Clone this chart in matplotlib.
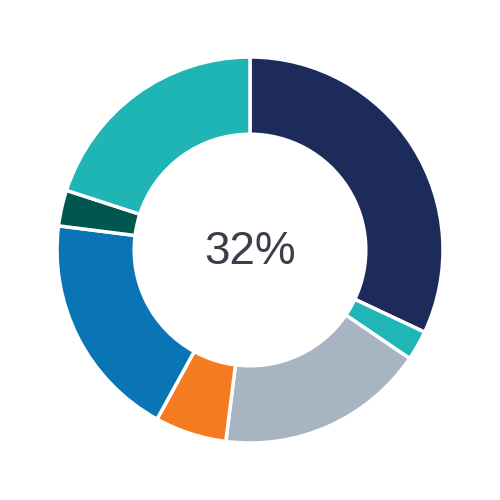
import matplotlib
matplotlib.use("Agg")
import matplotlib.pyplot as plt

categories = ["A", "B", "C", "D", "E", "F", "G"]
values = [32, 2.5, 17.5, 6, 19, 3, 20]
colors = ["#1c2b5a", "#20b6b8", "#a8b4c2", "#f47b20", "#0a75b5", "#00574f", "#1fb5b5"]
center_label = "32%"

fig = plt.figure(figsize=(5, 5), dpi=100)
ax = fig.add_axes([0, 0, 1, 1])
ax.pie(values, colors=colors, startangle=90, counterclock=False, radius=1.0,
       wedgeprops=dict(width=0.4, edgecolor="white", linewidth=2.5))
ax.text(0, -0.01, center_label, ha="center", va="center", fontsize=33,
        color="#3a3f4a", family="Liberation Sans")
lim = 250 / 193
ax.set_xlim(-lim, lim)
ax.set_ylim(-lim, lim)
ax.set_aspect("equal")
ax.axis("off")
fig.savefig("out.png", dpi=100, facecolor="white")
